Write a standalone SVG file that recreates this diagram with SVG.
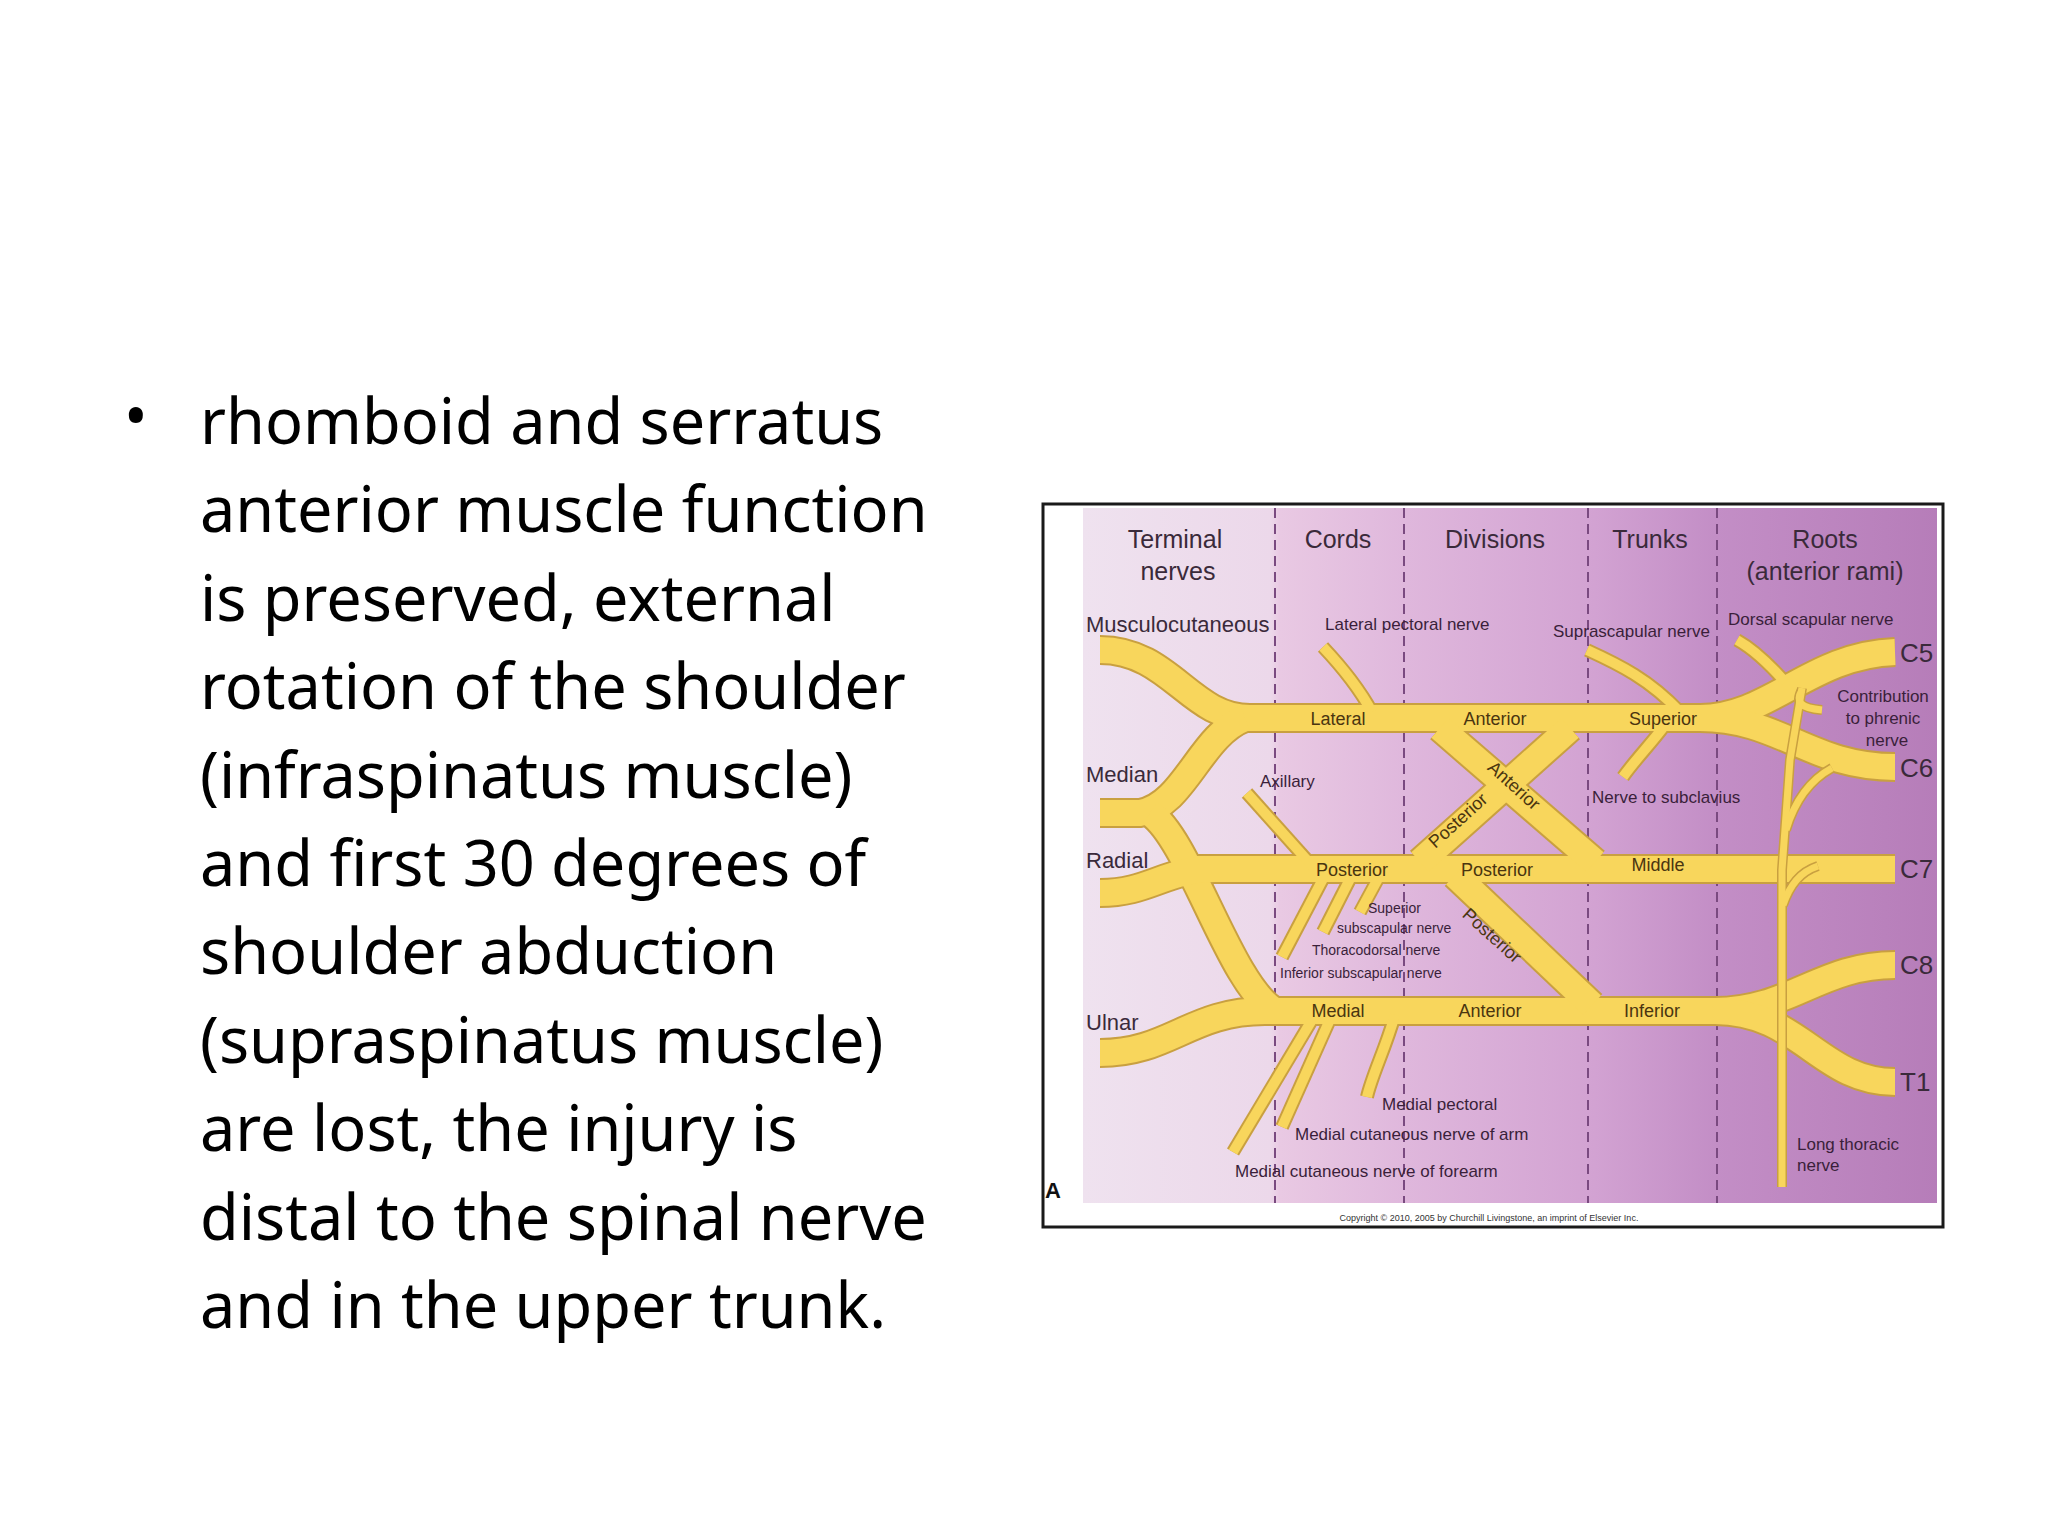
<svg xmlns="http://www.w3.org/2000/svg" xmlns:xlink="http://www.w3.org/1999/xlink" width="2048" height="1536" viewBox="0 0 2048 1536">
<style>
.b{font-family:"Noto Sans","Open Sans",sans-serif;font-size:63px;fill:#000}
.h{font-family:"Liberation Sans",Arial,sans-serif;font-size:25px;fill:#3a2a3a;text-anchor:middle}
.l{font-family:"Liberation Sans",Arial,sans-serif;font-size:22px;fill:#3a2a3a}
.s{font-family:"Liberation Sans",Arial,sans-serif;font-size:17px;fill:#3a1f3a}
.xs{font-family:"Liberation Sans",Arial,sans-serif;font-size:14px;fill:#3a1f3a}
.n{font-family:"Liberation Sans",Arial,sans-serif;font-size:18px;fill:#4a3510;text-anchor:middle}
.c{font-family:"Liberation Sans",Arial,sans-serif;font-size:26px;fill:#3a2a3a}
.dash{stroke:#7a4a80;stroke-width:2;stroke-dasharray:10,6}
.o1{fill:none;stroke:#c9a040;stroke-width:30}
.y1{fill:none;stroke:#f8d65c;stroke-width:26}
.o2{fill:none;stroke:#c9a040;stroke-width:14}
.y2{fill:none;stroke:#f8d65c;stroke-width:10}
.o3{fill:none;stroke:#c9a040;stroke-width:10}
.y3{fill:none;stroke:#f8d65c;stroke-width:7}
</style>
<defs>
<linearGradient id="bg" x1="1083" y1="0" x2="1937" y2="0" gradientUnits="userSpaceOnUse">
<stop offset="0" stop-color="#efe2ef"/>
<stop offset="0.22" stop-color="#ecd8ea"/>
<stop offset="0.23" stop-color="#e9c9e3"/>
<stop offset="0.38" stop-color="#dfb7dc"/>
<stop offset="0.6" stop-color="#d2a2d2"/>
<stop offset="0.74" stop-color="#c38ec6"/>
<stop offset="1" stop-color="#b67db9"/>
</linearGradient>
<path id="p1" d="M1233,718 L1750,718"/>
<path id="p2" d="M1700,718 C1770,718 1810,655 1895,652"/>
<path id="p3" d="M1700,718 C1780,718 1810,767 1895,767"/>
<path id="p4" d="M1100,650 C1170,650 1190,718 1250,718"/>
<path id="p5" d="M1245,718 C1200,735 1185,805 1140,813 L1100,813"/>
<path id="p6" d="M1150,813 C1190,840 1230,985 1275,1011"/>
<path id="p7" d="M1197,869 L1895,869"/>
<path id="p8" d="M1100,893 C1150,893 1165,869 1215,869"/>
<path id="p9" d="M1100,1053 C1170,1053 1190,1011 1265,1011"/>
<path id="p10" d="M1250,1011 L1750,1011"/>
<path id="p11" d="M1715,1011 C1790,1011 1820,965 1895,965"/>
<path id="p12" d="M1715,1011 C1800,1011 1820,1082 1895,1082"/>
<path id="p13" d="M1440,728 L1595,862"/>
<path id="p14" d="M1420,862 L1570,728"/>
<path id="p15" d="M1455,875 L1592,1005"/>
<path id="t1" d="M1372,712 C1360,690 1340,665 1323,647"/>
<path id="t2" d="M1680,712 C1650,680 1620,665 1587,650"/>
<path id="t3" d="M1665,725 C1650,745 1635,760 1623,777"/>
<path id="t4" d="M1785,682 C1770,665 1755,650 1737,640"/>
<path id="t5" d="M1315,869 L1247,793"/>
<path id="t6" d="M1380,875 L1360,912"/>
<path id="t7" d="M1352,875 L1323,932"/>
<path id="t8" d="M1325,875 L1282,957"/>
<path id="t9" d="M1395,1015 C1385,1050 1372,1075 1367,1097"/>
<path id="t10" d="M1332,1015 L1282,1127"/>
<path id="t11" d="M1315,1015 L1233,1152"/>
<path id="u1" d="M1782,1187 L1782,870 L1790,760 L1802,688"/>
<path id="u2" d="M1783,905 C1790,885 1800,872 1818,866"/>
<path id="u3" d="M1786,830 C1795,800 1810,780 1832,768"/>
<path id="u4" d="M1802,690 C1795,702 1800,708 1822,710"/>
</defs>

<rect width="2048" height="1536" fill="#fff"/>

<g id="bullet">
<text class="b" x="124" y="438">•</text>
<text class="b" x="200" y="444">rhomboid and serratus</text>
<text class="b" x="200" y="532">anterior muscle function</text>
<text class="b" x="200" y="621">is preserved, external</text>
<text class="b" x="200" y="709">rotation of the shoulder</text>
<text class="b" x="200" y="798">(infraspinatus muscle)</text>
<text class="b" x="200" y="886">and first 30 degrees of</text>
<text class="b" x="200" y="974">shoulder abduction</text>
<text class="b" x="200" y="1063">(supraspinatus muscle)</text>
<text class="b" x="200" y="1151">are lost, the injury is</text>
<text class="b" x="200" y="1240">distal to the spinal nerve</text>
<text class="b" x="200" y="1328">and in the upper trunk.</text>
</g>

<g id="frame">
<rect x="1043" y="504" width="900" height="723" fill="#fff" stroke="#1a1a1a" stroke-width="3"/>
<rect x="1083" y="508" width="854" height="695" fill="url(#bg)"/>
<line class="dash" x1="1275" y1="508" x2="1275" y2="1203"/>
<line class="dash" x1="1404" y1="508" x2="1404" y2="1203"/>
<line class="dash" x1="1588" y1="508" x2="1588" y2="1203"/>
<line class="dash" x1="1717" y1="508" x2="1717" y2="1203"/>
</g>

<g id="headers">
<text class="h" x="1175" y="548">Terminal</text>
<text class="h" x="1178" y="580">nerves</text>
<text class="h" x="1338" y="548">Cords</text>
<text class="h" x="1495" y="548">Divisions</text>
<text class="h" x="1650" y="548">Trunks</text>
<text class="h" x="1825" y="548">Roots</text>
<text class="h" x="1825" y="580">(anterior rami)</text>
</g>

<g id="connectors">
<use href="#p1" class="o1"/><use href="#p2" class="o1"/><use href="#p3" class="o1"/><use href="#p4" class="o1"/><use href="#p5" class="o1"/><use href="#p6" class="o1"/><use href="#p7" class="o1"/><use href="#p8" class="o1"/><use href="#p9" class="o1"/><use href="#p10" class="o1"/><use href="#p11" class="o1"/><use href="#p12" class="o1"/><use href="#p13" class="o1"/><use href="#p14" class="o1"/><use href="#p15" class="o1"/>
<use href="#t1" class="o2"/><use href="#t2" class="o2"/><use href="#t3" class="o2"/><use href="#t4" class="o2"/><use href="#t5" class="o2"/><use href="#t6" class="o2"/><use href="#t7" class="o2"/><use href="#t8" class="o2"/><use href="#t9" class="o2"/><use href="#t10" class="o2"/><use href="#t11" class="o2"/>
<use href="#p1" class="y1"/><use href="#p2" class="y1"/><use href="#p3" class="y1"/><use href="#p4" class="y1"/><use href="#p5" class="y1"/><use href="#p6" class="y1"/><use href="#p7" class="y1"/><use href="#p8" class="y1"/><use href="#p9" class="y1"/><use href="#p10" class="y1"/><use href="#p11" class="y1"/><use href="#p12" class="y1"/><use href="#p13" class="y1"/><use href="#p14" class="y1"/><use href="#p15" class="y1"/>
<use href="#t1" class="y2"/><use href="#t2" class="y2"/><use href="#t3" class="y2"/><use href="#t4" class="y2"/><use href="#t5" class="y2"/><use href="#t6" class="y2"/><use href="#t7" class="y2"/><use href="#t8" class="y2"/><use href="#t9" class="y2"/><use href="#t10" class="y2"/><use href="#t11" class="y2"/>
<use href="#u1" class="o3"/><use href="#u2" class="o3"/><use href="#u3" class="o3"/><use href="#u4" class="o3"/>
<use href="#u1" class="y3"/><use href="#u2" class="y3"/><use href="#u3" class="y3"/><use href="#u4" class="y3"/>
</g>

<g id="nerve-labels">
<text class="n" x="1338" y="725">Lateral</text>
<text class="n" x="1495" y="725">Anterior</text>
<text class="n" x="1663" y="725">Superior</text>
<text class="n" x="1352" y="876">Posterior</text>
<text class="n" x="1497" y="876">Posterior</text>
<text class="n" x="1658" y="871">Middle</text>
<text class="n" x="1338" y="1017">Medial</text>
<text class="n" x="1490" y="1017">Anterior</text>
<text class="n" x="1652" y="1017">Inferior</text>
<text class="n" transform="translate(1510,790) rotate(42)">Anterior</text>
<text class="n" transform="translate(1462,825) rotate(-42)">Posterior</text>
<text class="n" transform="translate(1488,940) rotate(42)">Posterior</text>
</g>

<g id="terminal-labels">
<text class="l" x="1086" y="632">Musculocutaneous</text>
<text class="l" x="1086" y="782">Median</text>
<text class="l" x="1086" y="868">Radial</text>
<text class="l" x="1086" y="1030">Ulnar</text>
<text class="s" x="1260" y="787">Axillary</text>
</g>

<g id="branch-labels">
<text class="s" x="1325" y="630">Lateral pectoral nerve</text>
<text class="s" x="1553" y="637">Suprascapular nerve</text>
<text class="s" x="1728" y="625">Dorsal scapular nerve</text>
<text class="s" x="1592" y="803">Nerve to subclavius</text>
<text class="s" x="1883" y="702" text-anchor="middle">Contribution</text>
<text class="s" x="1883" y="724" text-anchor="middle">to phrenic</text>
<text class="s" x="1887" y="746" text-anchor="middle">nerve</text>
<text class="xs" x="1368" y="913">Superior</text>
<text class="xs" x="1337" y="933">subscapular nerve</text>
<text class="xs" x="1312" y="955">Thoracodorsal nerve</text>
<text class="xs" x="1280" y="978">Inferior subscapular nerve</text>
<text class="s" x="1382" y="1110">Medial pectoral</text>
<text class="s" x="1295" y="1140">Medial cutaneous nerve of arm</text>
<text class="s" x="1235" y="1177">Medial cutaneous nerve of forearm</text>
<text class="s" x="1797" y="1150">Long thoracic</text>
<text class="s" x="1797" y="1171">nerve</text>
</g>

<g id="roots">
<text class="c" x="1900" y="662">C5</text>
<text class="c" x="1900" y="777">C6</text>
<text class="c" x="1900" y="878">C7</text>
<text class="c" x="1900" y="974">C8</text>
<text class="c" x="1900" y="1091">T1</text>
</g>

<text x="1045" y="1198" font-family="Liberation Sans, Arial, sans-serif" font-size="22" font-weight="bold" fill="#111">A</text>
<text x="1489" y="1221" text-anchor="middle" font-family="Liberation Sans, Arial, sans-serif" font-size="9" fill="#333">Copyright © 2010, 2005 by Churchill Livingstone, an imprint of Elsevier Inc.</text>
</svg>
